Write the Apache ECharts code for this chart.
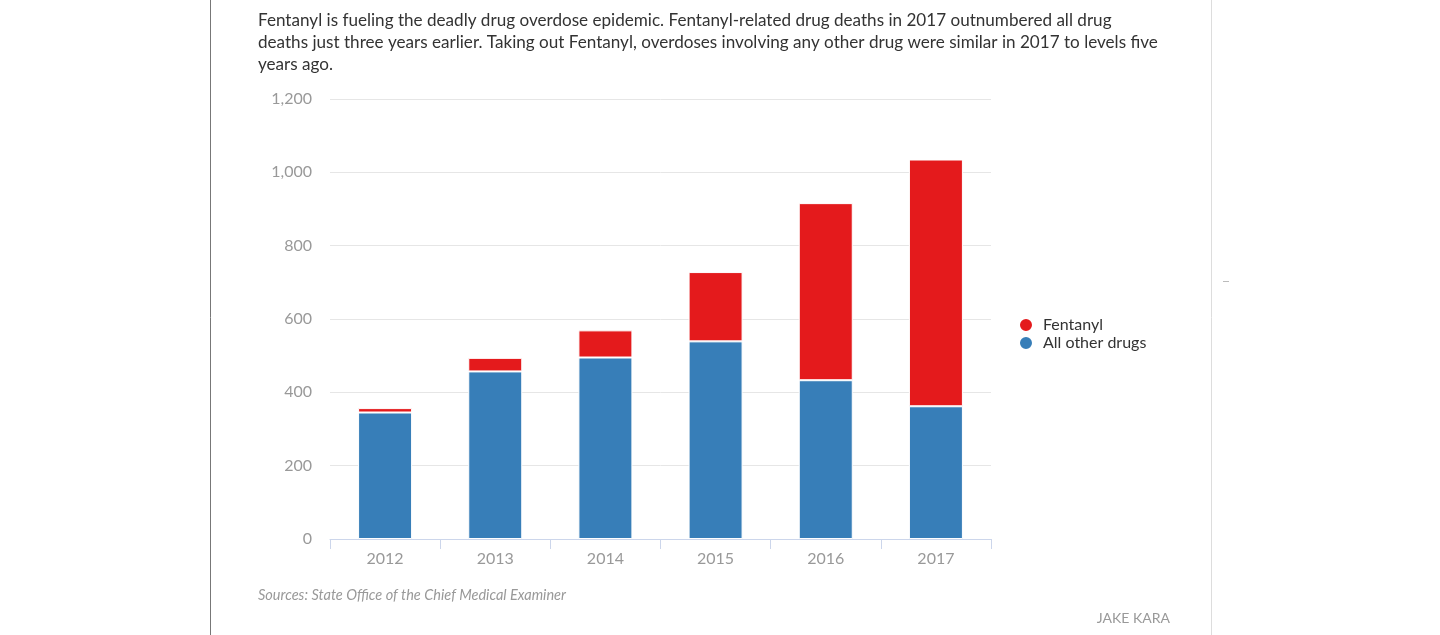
<!DOCTYPE html>
<html><head><meta charset="utf-8">
<script src="https://cdn.jsdelivr.net/npm/echarts@6/dist/echarts.min.js"></script>
<style>html,body{margin:0;padding:0;background:#fff}#c{width:1440px;height:635px}</style>
</head><body><div id="c"></div>
<script>
const categories = ['2012','2013','2014','2015','2016','2017'];
const otherDrugs = [345, 457, 495, 539, 433, 362];
const fentanyl = [12, 37, 74, 189, 483, 673];
const yTicks = [0, 200, 400, 600, 800, 1000, 1200];
const titleText = 'Fentanyl is fueling the deadly drug overdose epidemic. Fentanyl-related drug deaths in 2017 outnumbered all drug\ndeaths just three years earlier. Taking out Fentanyl, overdoses involving any other drug were similar in 2017 to levels five\nyears ago.';

const chart = echarts.init(document.getElementById('c'));
const FONT = 'Lato, "Open Sans", sans-serif';
chart.setOption({
  animation: false,
  textStyle: {fontFamily: FONT},
  title: {
    text: titleText, left: 253, top: 4,
    textStyle: {fontFamily: FONT, fontSize: 17.1, fontWeight: 'normal', color: '#333', lineHeight: 22}
  },
  legend: {
    orient: 'vertical', left: 1013, top: 312, itemGap: 2,
    icon: 'circle', itemWidth: 14, itemHeight: 14,
    data: ['Fentanyl', 'All other drugs'],
    textStyle: {fontFamily: FONT, fontSize: 16, color: '#333', padding: [0, 0, 0, 5]}
  },
  grid: {left: 330, right: 449, top: 99, bottom: 96, containLabel: false},
  xAxis: {
    type: 'category', data: categories,
    axisLine: {lineStyle: {color: '#ccd6eb'}},
    axisTick: {show: true, length: 10, lineStyle: {color: '#ccd6eb'}},
    axisLabel: {fontFamily: FONT, fontSize: 16, color: '#999', margin: 12}
  },
  yAxis: {
    type: 'value', min: 0, max: 1200, interval: 200,
    axisLine: {show: false}, axisTick: {show: false},
    splitLine: {lineStyle: {color: '#e6e6e6'}},
    axisLabel: {fontFamily: FONT, fontSize: 16, color: '#999', margin: 18,
      formatter: v => yTicks.includes(v) ? v.toLocaleString('en-US') : ''}
  },
  series: [
    {name: 'All other drugs', type: 'bar', stack: 's', data: otherDrugs, barWidth: 54,
     itemStyle: {color: '#377eb8', borderColor: '#fff', borderWidth: 1}},
    {name: 'Fentanyl', type: 'bar', stack: 's', data: fentanyl, barWidth: 54,
     itemStyle: {color: '#e41a1c', borderColor: '#fff', borderWidth: 1}}
  ],
  graphic: [
    {type: 'line', shape: {x1: 210.5, y1: 0, x2: 210.5, y2: 635}, style: {stroke: '#777', lineWidth: 1}},
    {type: 'line', shape: {x1: 1211.5, y1: 0, x2: 1211.5, y2: 635}, style: {stroke: '#ddd', lineWidth: 1}},
    {type: 'line', shape: {x1: 1223, y1: 281.5, x2: 1229, y2: 281.5}, style: {stroke: '#bbb', lineWidth: 1}},
    {type: 'text', left: 258, top: 588, style: {text: 'Sources: State Office of the Chief Medical Examiner', font: 'italic 14.5px ' + FONT, fill: '#999'}},
    {type: 'text', right: 1440 - 1170, top: 611, style: {text: 'JAKE KARA', font: '14px ' + FONT, fill: '#999'}}
  ]
});
</script></body></html>
